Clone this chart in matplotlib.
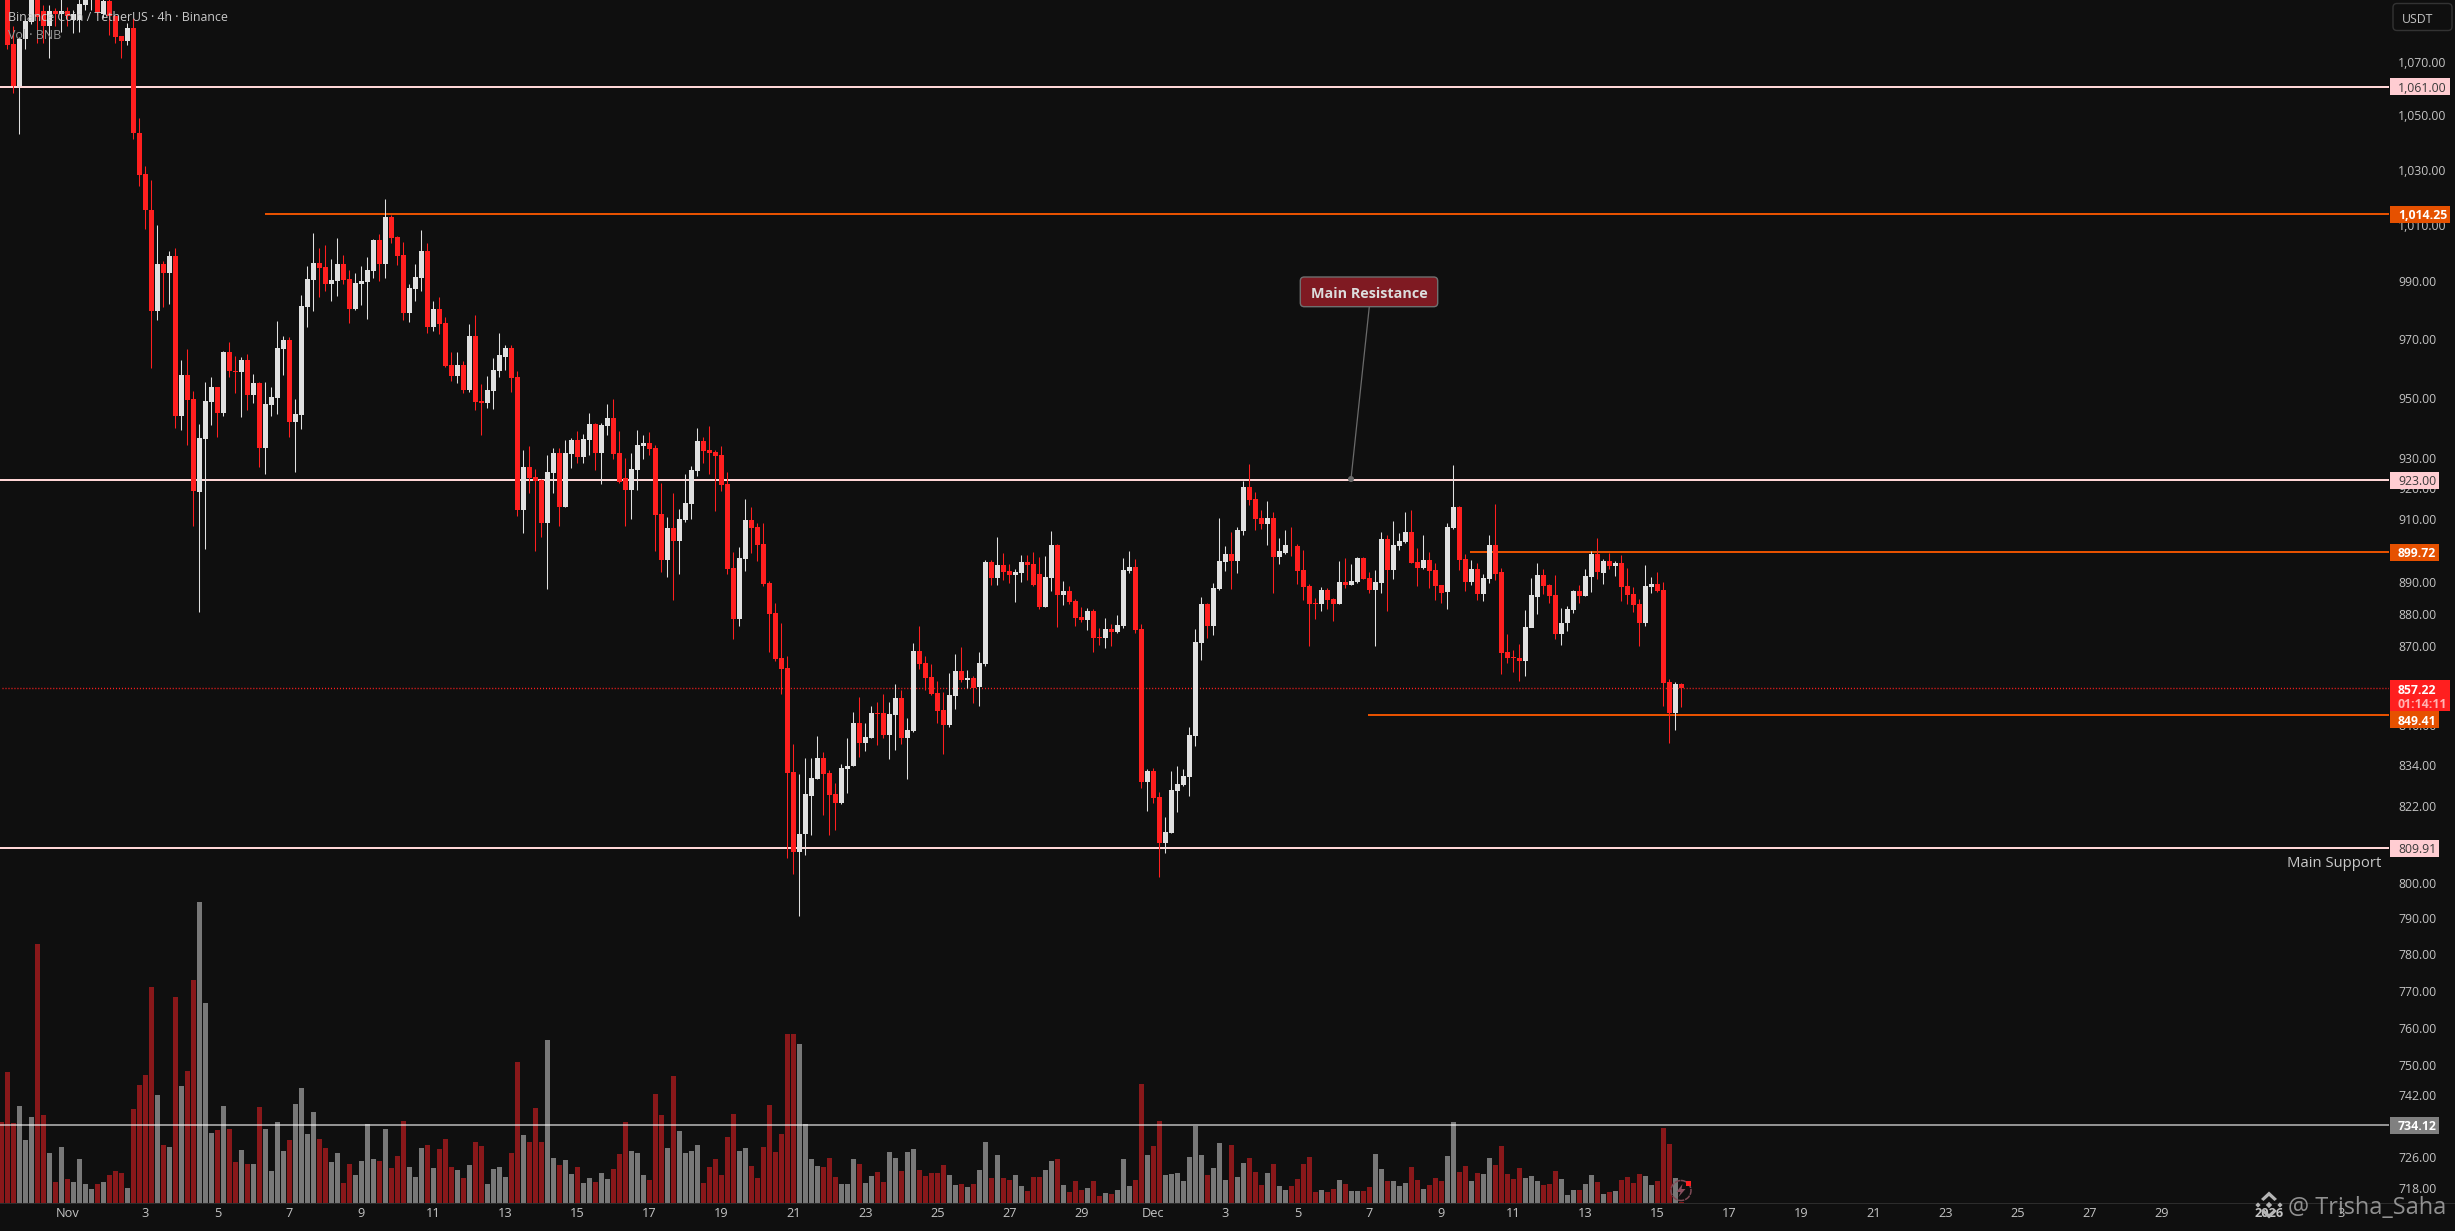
import matplotlib
matplotlib.use('Agg')
import matplotlib.pyplot as plt
import numpy as np
from matplotlib.patches import Rectangle, FancyBboxPatch, Circle, Polygon
from matplotlib.lines import Line2D
from matplotlib.ticker import FixedLocator, FixedFormatter, NullLocator
from matplotlib.transforms import Affine2D, offset_copy

# BNB/USDT 4h candles, first bar is just off the top
opens = [1100,1098,1076.9,1061,1078.6,1085.4,1097,1089.7,1083.9,1089.7,
    1088.2,1089.7,1085.9,1086.2,1092,1095,1098,1088.5,1093.3,1087.7,
    1079.8,1078.1,1083,1043.5,1028.4,1015.5,979.6,996.1,993,999,
    944,957.8,949.6,918.9,936.3,948.6,953.6,945,965.6,959,
    958.7,962.9,950.9,955,933.3,947.6,949.9,966.5,969.6,942,
    944.2,981.1,990.5,996.5,995,989.1,990.1,996.1,990.8,980.2,
    989.1,989.8,993.7,1004.6,996.1,1012.8,1005.7,999.3,979.1,987.3,
    991.1,1000.6,974.2,980.3,975.4,961,957.3,961,952.6,970.9,
    948.9,948.2,952.3,959.1,964,966.8,956.9,912.9,926.9,923.6,
    922.7,908.8,925,931.5,914.1,931.2,935.8,930.2,935.8,941.1,
    931.5,940.5,943.2,931.5,923.3,919.4,926,933.9,934.9,933.2,
    911.6,897,907.2,903,909.7,915,925.7,935.5,932.5,931.9,
    930.9,921.4,894.3,878.4,897.2,909.7,907.5,902,889.6,880.2,
    866.4,863.4,832,808.9,813.9,825,830,836.1,831.7,825.6,
    823,832.9,833.7,846.6,840.6,842.1,849.7,849.7,843.1,849,
    854.1,842.1,844.2,868.5,864.8,860.5,855.7,850.5,846,854.8,
    862.4,859.6,860.2,857.5,864.5,896.3,891.2,895.3,893.4,892.1,
    892.8,896.3,895.6,892.4,882.1,891.2,901.6,885.8,887,884,
    879,878,880.8,872.7,872.5,875.2,874.3,876.3,893.5,894.8,
    875.2,829.2,832.4,824.7,811.4,814.3,826.4,828.2,830.6,842.8,
    871,883,876.3,887.8,896.2,898.8,896.6,906.3,920.4,916.4,
    910.5,908.3,910.5,898,899.3,901.5,901.4,893.8,888.7,883.4,
    883.1,887.6,884.7,883.1,890,889.1,890,897.6,891.2,887.6,
    889.7,903.6,893.8,901.4,902.7,905.9,896.3,894.4,896.9,893.8,
    889,886.9,907.1,914,897.2,890,894.1,886.3,891,901.7,
    893,868.2,866.6,866.4,865.5,875.6,885.4,892.2,889,885.8,
    873.7,877,881.3,887.2,885.7,891.6,898.8,892.7,896.6,895,
    895.9,888.7,886.1,883.1,877,888.4,889.4,887.5,859.1,849.7,
    858.5]
closes = [1099,1076.6,1061,1078.9,1085.7,1096,1087.4,1083.9,1089.5,1088.2,
    1089.7,1087.7,1088.5,1092.3,1096,1098,1089.2,1093.3,1087.7,1079.7,
    1078.1,1083,1043.3,1028,1015.5,979.6,996.1,993,999,944,
    957.8,949.2,919.1,936.6,949,953.6,945,965.6,959.1,958.6,
    962.9,950.9,955,933.3,947.9,950.3,966.9,969.6,942,944.6,
    981.4,990.8,996.5,994.7,989.1,990.5,996.1,990.5,980.2,989.4,
    990.1,994,1004.6,996.1,1012.8,1005.3,999,979.1,987.7,991.5,
    1000.6,974.2,980.3,975.1,960.7,957.3,961,952.6,970.9,948.5,
    948.2,952.6,959.4,964.4,966.8,956.6,912.9,926.9,923.3,922.3,
    908.8,925.3,931.5,914.1,931.5,935.8,930.2,936.1,941.1,931.5,
    940.8,943.2,931.2,922,919.4,926.3,934.2,934.9,932.9,911.3,
    897,907.2,903,910,915.2,926,935.5,932.2,931.5,930.5,
    921,894,878.4,897.5,909.7,907.2,901.7,889.3,879.9,866,
    863,831.7,808.9,814.1,825.6,830.3,836.1,831.3,825.3,823,
    833.1,833.9,846.6,840.6,842.4,849.7,849.4,843.1,849.4,854.1,
    842.1,844.5,868.5,864.5,860.2,855.4,850.2,846,855.1,862.4,
    859.6,860.2,857.2,864.8,896.3,891.2,895.3,893.1,892.1,893.1,
    896.3,895.3,889,882.1,891.5,901.6,885.8,887,883.6,878.7,
    878,880.8,872.5,872.5,875.2,874.3,876.5,893.8,894.8,874.9,
    829.2,832.4,824.4,811.4,814.6,826.7,828.5,830.9,843.1,871.3,
    883,876.3,888.1,896.5,898.8,896.6,906.6,920.4,916.1,910.2,
    908.3,910.5,898,899.8,901.6,901.3,893.4,888.4,883.1,883.2,
    887.6,884.4,883.1,890,889.1,890.3,897.6,891,887.6,890,
    903.6,893.8,901.6,903,905.9,896,894.4,896.9,893.4,888.7,
    886.6,907.4,914,896.9,890,894.1,886.3,891.2,901.7,892.6,
    867.9,866.4,866.4,865.5,875.9,885.8,892.2,888.7,885.5,873.7,
    877.2,881.6,887.2,885.7,891.9,898.8,893.1,896.6,895,895.9,
    888.4,885.8,882.8,877,888.7,889.4,887.2,858.8,849.7,858.5,
    857.2]
highs = [1101,1100,1083.6,1079.5,1086.5,1098,1098,1091.8,1091.7,1090.8,
    1094,1091,1090,1095,1098,1099,1099,1096,1096,1088,
    1080,1085.1,1086.7,1049.1,1031.3,1026.3,1009.9,997.2,1000.7,1001.7,
    962.9,966.5,952.2,941.3,955.5,957.1,953.8,966,969,964.2,
    963.8,965,958,955.5,955.4,953.7,976.2,971,970.7,949.6,
    985.3,995.4,1007.2,1001.8,1002.8,997.9,1005.3,999.3,994,993,
    995.4,998.6,1005,1006.7,1019.4,1013.7,1006,1003.9,989.1,996.1,
    1008.1,1003.5,983,984.4,977.5,965.4,965.4,962.4,975,978.2,
    954.6,957.3,963.4,972,967.8,967.8,959,932.5,933.8,926.4,
    923,930.9,933.2,933.2,935.8,936.5,938.9,937.8,944.9,941.5,
    941.5,947.9,949.6,938.9,929.9,931.5,939.2,937.5,938.5,934.2,
    921.7,910.7,918.5,913.2,924.6,927.3,939.8,937,940.7,932.5,
    933.8,925.3,899.4,901,916.5,914,908.8,908.8,890.2,883.4,
    877.1,867,840.4,831.4,836.1,836.1,842.6,838.1,832.6,828.8,
    834.3,842,849.9,854.4,846.6,851.8,853,855.4,853,858.4,
    856.6,848,871,876.3,867,864.6,859.3,856,861.8,867.6,
    869.7,862.7,860.8,868.2,896.9,896.9,904.4,899.2,895.6,894,
    898.5,898.5,899.5,897.9,898.2,906.2,901.9,890.2,888.6,884.6,
    882.1,881.7,881.4,875.6,878.7,876.8,879.6,897.6,899.7,897.4,
    876.8,833,833.3,826.2,818.9,832.4,833.9,832.9,845.3,875.2,
    885.4,883.3,889.7,910.4,901.4,905.9,907.6,922.4,928,918.7,
    913,916,912.3,904,906.6,907.6,902,900.1,889.4,884.9,
    888.4,888,885,896.6,897.6,895.7,898,898,893.1,893.8,
    905.9,904.9,909.5,905.5,912.3,913,900.8,904.9,899.5,896,
    889,908.7,927.6,914.3,898.8,896.9,896,892.5,904.9,915,
    894.4,873.8,868.8,870.7,881.2,891.2,896,894.1,889.4,892.2,
    881.9,882.5,887.6,889,894.1,899.8,903.9,897.2,899.3,896.6,
    898.5,894.4,888.4,884.7,895.4,891.6,893.1,890,860,859.1,
    858.8]
lows = [1098.5,1075.1,1058.4,1043.2,1074.9,1084.7,1077.4,1077.1,1071.4,1083.9,
    1081.6,1083.9,1080.9,1081.6,1090,1090,1088,1087,1080.4,1077.4,
    1071.4,1076.4,1041.2,1024.1,1008.7,960.2,976.7,981,982,940,
    939.3,934.3,907.9,880.6,900.3,941,937,944,957.1,951.7,
    943.5,945.9,948.4,927.1,924.6,944,944.6,957.8,937,925.3,
    939.6,974.1,979.6,984.6,986.6,983.2,984.8,989.1,975.5,980,
    981.9,976.8,991.2,990.1,991.2,1003.5,995.8,976.6,975.9,983.2,
    986.5,972,972.7,971.6,960.3,955.6,954.9,951.5,952,945.9,
    937.5,946.5,946.2,957,959.4,952,911,905.5,918.5,899.8,
    904.3,887.7,918.5,907.8,914,926.6,928.2,928.4,930.9,926.1,
    921.4,937.5,929.6,921.6,907.8,910,919.4,929.5,930.9,899.8,
    893.2,891.6,884.3,892.6,909,910,924,928.2,924.6,912.5,
    919.1,892.6,872.2,876.2,893.5,899.2,896.7,888.7,868.2,865.4,
    855.4,807,802.6,790.7,807.9,813.7,830,819.5,813.7,815.2,
    822.7,825.9,833.7,836.4,838.2,842,839.9,842.1,835.9,838.5,
    840.4,830,844,863,856.6,855.2,846.6,837.3,845.5,850.8,
    859,857.2,852.6,851.7,864,889,889,890.5,889.6,883.7,
    889.9,890.5,888.7,881.5,882,887,875.9,882.9,883.2,876.3,
    877.5,875,868.2,870.3,869.4,870,874,875.7,892.8,873.9,
    827.4,820.6,823,801.7,808.4,814.2,820.4,828,825,839.8,
    865.6,872.5,873.4,887.5,893.5,887.8,892.8,904.9,914.6,906.6,
    906.9,901.6,886.6,895.7,899,898.3,889.4,884.4,870.1,878.5,
    881,881.6,877.9,883,888.1,889,889.7,890.9,886.6,870.1,
    886.6,881,890.9,900.1,902.3,895.9,888.7,894,888.1,884.4,
    883.4,881.6,907,893.8,887.2,889.1,884.4,884.1,889.7,890.6,
    861.5,864.9,862.1,859.4,860.9,880,880,886.3,883.4,872.1,
    870.4,874.6,880.3,883.4,885.6,886.9,890.9,889.4,894.1,891.9,
    884.1,883,880.6,870.1,876.3,886.6,886.9,851.8,840.7,844.6,
    851.5]
volumes = [81,131,80,97,63,86,259,88,50,21,
    56,24,21,44,19,14,19,21,28,32,
    30,15,94,118,128,216,108,58,56,206,
    117,132,223,301,200,70,73,97,74,41,
    53,39,39,96,74,32,81,52,63,99,
    115,69,91,64,55,41,50,20,39,28,
    42,79,44,42,74,35,47,82,36,26,
    55,58,35,54,64,36,33,25,38,61,
    57,19,34,36,26,50,141,68,61,95,
    61,163,45,38,43,29,36,20,25,21,
    30,24,34,49,81,52,50,28,23,109,
    88,55,127,72,50,52,58,20,36,44,
    28,66,89,52,55,37,25,56,98,51,
    69,169,169,159,79,44,37,36,45,26,
    19,19,44,39,20,27,31,21,51,45,
    32,51,54,33,27,30,30,38,28,18,
    19,16,19,33,61,25,48,25,23,28,
    17,12,26,26,33,42,44,18,11,22,
    13,15,22,7,10,9,13,44,17,23,
    119,48,57,82,28,29,30,22,46,77,
    48,28,35,60,23,58,26,40,45,31,
    18,30,39,17,13,17,24,39,46,11,
    13,11,14,23,19,12,12,12,16,49,
    34,22,22,17,20,36,23,14,18,25,
    22,47,81,31,37,22,30,29,45,38,
    57,29,24,35,25,27,22,18,19,32,
    24,8,13,13,19,28,21,9,11,12,
    23,26,20,29,27,18,22,75,59,25,
    1]

price_ticks = [1070,1050,1030,1010,990,970,950,930,920,910,900,890,880,870,858,846,834,822,
    810,800,790,780,770,760,750,742,734,726,718]
date_ticks = [10] + list(range(23, 180, 12)) + [191] + list(range(203, 360, 12)) + [377, 389]
date_labels = ['Nov'] + [str(d) for d in range(3, 30, 2)] + ['Dec'] + [str(d) for d in range(3, 30, 2)] + ['2026', '3']

W, H = 2455, 1231
BG = '#0f0f0f'
RED = '#ff1f1f'
WHITE = '#e0e0e0'
PINK = '#ffd6d6'
ORANGE = '#e65100'
GREY = '#c4c4c4'
plt.rcParams['font.family'] = ['Open Sans', 'DejaVu Sans']

fig = plt.figure(figsize=(W / 100 + 1e-6, H / 100 + 1e-6), dpi=100, facecolor=BG)
pos = [0, (H - 1203) / H, 2389 / W, 1203 / H]
xlim = (-7.33 / 6, (2389 - 7.33) / 6)

# volume pane sits under the candles, one unit is one pixel tall
vax = fig.add_axes(pos, zorder=0)
vax.set_xlim(xlim)
vax.set_ylim(0, 1203)
vax.axis('off')

ax = fig.add_axes(pos, zorder=1)
ax.patch.set_visible(False)
ax.set_yscale('log')
ax.set_xlim(xlim)
ax.set_ylim(714.2, 1093.8)
for s in ax.spines.values():
    s.set_visible(False)

opens, closes, highs, lows = map(np.array, (opens, closes, highs, lows))
bars = np.arange(len(opens)) - 1
down = closes < opens
cols = np.where(down, RED, WHITE)

vax.bar(bars, volumes, width=0.83, color=np.where(down, '#89181a', '#787878'), linewidth=0)

# the upper drawn levels sit a pixel under their scale position in the picture
nudged = offset_copy(ax.transData, fig=fig, y=-1, units='dots')
for y, start, c, tr in [(1061, None, PINK, nudged), (1014.25, 42.9, ORANGE, nudged), (923, None, PINK, nudged),
                        (899.72, 243.8, ORANGE, nudged), (849.41, 226.8, ORANGE, nudged),
                        (809.91, None, PINK, ax.transData)]:
    ax.plot([xlim[0] if start is None else start, xlim[1]], [y, y], color=c, lw=1.44, zorder=1,
            solid_capstyle='butt', transform=tr)
ax.axhline(734.12, color='white', alpha=0.55, lw=1.44, zorder=1)
ax.plot([-0.9, xlim[1]], [857.22, 857.22], color=RED, lw=1, ls=(0, (0.75, 1.4)), zorder=1)

ax.vlines(bars, lows, highs, colors=cols, lw=0.75, zorder=2)
ax.bar(bars, np.abs(closes - opens), bottom=np.minimum(opens, closes), width=0.83, color=cols,
       linewidth=0, zorder=3)

ax.yaxis.tick_right()
ax.yaxis.set_major_locator(FixedLocator(price_ticks))
ax.yaxis.set_major_formatter(FixedFormatter([f'{t:,.2f}' for t in price_ticks]))
ax.yaxis.set_minor_locator(NullLocator())
ax.tick_params(axis='y', length=0, pad=6.5, labelsize=8.8, labelcolor=GREY)
ax.set_xticks(date_ticks)
ax.set_xticklabels(date_labels)
ax.tick_params(axis='x', length=0, pad=3, labelsize=9.2, labelcolor=GREY)
for t in ax.get_xticklabels():
    if t.get_text() == '2026':
        t.set_fontweight('bold')

# everything below is placed in image pixels, y going down
pix = Affine2D().scale(1, -1).translate(0, H)


def price_y(p):
    return H - ax.transData.transform((0, p))[1]


def add(artist):
    artist.set_zorder(5)
    fig.add_artist(artist)


def price_box(y, text, bg, fg, right, bold=True):
    add(Rectangle((2390, y - 8.5), right - 2390, 17, facecolor=bg, edgecolor='none', transform=pix))
    fig.text(2398, y, text, color=fg, fontsize=8.8, va='center_baseline', fontweight='bold' if bold else 'normal',
             transform=pix, zorder=6)


add(Line2D([0, W], [1203, 1203], color='#2c2c2c', lw=0.75, transform=pix))

price_box(price_y(1061) + 1, '1,061.00', '#ffcdd2', '#3a3a3a', 2450, False)
price_box(price_y(1014.25) + 1, '1,014.25', ORANGE, 'white', 2450)
price_box(price_y(923) + 1, '923.00', '#ffcdd2', '#3a3a3a', 2439, False)
price_box(price_y(899.72) + 1, '899.72', ORANGE, 'white', 2439)
add(Rectangle((2390, 680), 60, 31, facecolor=RED, edgecolor='none', transform=pix))
fig.text(2398, 688.5, '857.22', color='white', fontsize=8.8, va='center_baseline', fontweight='bold', transform=pix, zorder=6)
fig.text(2398, 702.5, '01:14:11', color='#ffb3b3', fontsize=8.8, va='center_baseline', fontweight='bold', transform=pix, zorder=6)
price_box(719.5, '849.41', ORANGE, 'white', 2439)
price_box(price_y(809.91), '809.91', '#ffcdd2', '#3a3a3a', 2439, False)
price_box(price_y(734.12), '734.12', '#808080', 'white', 2439)

add(FancyBboxPatch((2395, 5.5), 55, 23, boxstyle='round,pad=2,rounding_size=4', facecolor=BG,
                   edgecolor='#333333', lw=1, transform=pix))
fig.text(2402, 17.5, 'USDT', color='#c4c4c4', fontsize=8.8, va='center_baseline', transform=pix, zorder=6)

fig.text(8, 16, 'Binance Coin / TetherUS · 4h · Binance', color='#c8c8c8', fontsize=8.9, va='center_baseline',
         transform=pix, zorder=6)
fig.text(8, 33.5, 'Vol · BNB', color='#9a9a9a', fontsize=8.9, va='center_baseline', transform=pix, zorder=6)

# callout on the resistance line
add(Line2D([1369.3, 1351], [306.7, 479], color='#6a6a6a', lw=0.9, transform=pix))
add(Circle((1351, 479), 3, facecolor='#6a6a6a', edgecolor='none', transform=pix))
add(FancyBboxPatch((1302.3, 279), 133.4, 25.7, boxstyle='round,pad=2,rounding_size=4', facecolor='#7f1a22',
                   edgecolor='#6f6f6f', lw=1, transform=pix))
fig.text(1369, 292, 'Main Resistance', color='#dcdcdc', fontsize=10.4, fontweight='bold', ha='center',
         va='center_baseline', transform=pix, zorder=6)
fig.text(2381, 861.5, 'Main Support', color='#c8c8c8', fontsize=10.7, ha='right', va='center_baseline',
         transform=pix, zorder=6)

# replay badge at the last bar
add(Circle((1681, 1190.5), 10, facecolor='none', edgecolor='#7d4a55', lw=1.1, ls=(0, (4, 0.6)), transform=pix))
add(Polygon([(1682.5, 1184), (1676.5, 1192), (1680.5, 1192), (1678.5, 1197), (1685.5, 1189), (1681.5, 1189)],
            facecolor='#8a5060', edgecolor='none', transform=pix))
add(Rectangle((1685.5, 1180.5), 5, 5, facecolor=RED, edgecolor='none', transform=pix))

# watermark
logo = '#b4b4b4'
for cx, cy, r in [(2269, 1205, 3.2), (2258, 1205, 2.6), (2280, 1205, 2.6)]:
    add(Polygon([(cx - r, cy), (cx, cy - r), (cx + r, cy), (cx, cy + r)], facecolor=logo, edgecolor='none', transform=pix))
add(Polygon([(2269, 1191.5), (2277, 1199), (2274.5, 1201), (2269, 1196), (2263.5, 1201), (2261, 1199)],
            facecolor=logo, edgecolor='none', transform=pix))
add(Polygon([(2269, 1218.5), (2277, 1211), (2274.5, 1209), (2269, 1214), (2263.5, 1209), (2261, 1211)],
            facecolor=logo, edgecolor='none', transform=pix))
fig.text(2288, 1205, '@ Trisha_Saha', color='#a8a8a8', alpha=0.85, fontsize=16.9, va='center_baseline',
         transform=pix, zorder=6)

fig.savefig('out.png', dpi=100, facecolor=BG)
